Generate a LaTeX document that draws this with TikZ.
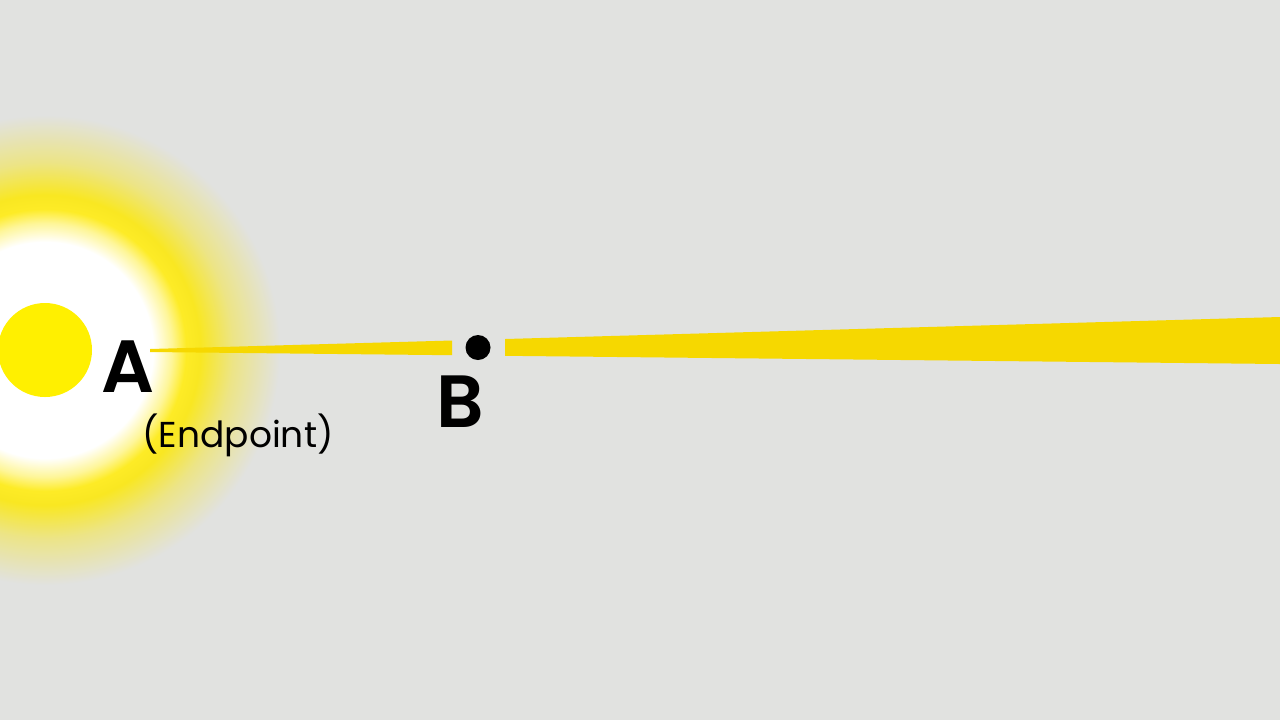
\documentclass[tikz,border=0pt]{standalone}
\usepackage{fontspec}
\setmainfont{Poppins}
\newfontfamily\semib{Poppins SemiBold}
\definecolor{bg}{HTML}{E1E2E0}
\definecolor{sun}{HTML}{FFF000}
\definecolor{ring}{HTML}{FDE800}
\definecolor{ray}{HTML}{F6D800}
\pgfdeclareradialshading{glow}{\pgfpoint{0bp}{0bp}}{color(0bp)=(white); color(11.5bp)=(white); color(13.5bp)=(ring!40!white); color(15bp)=(ring!85!white); color(16.5bp)=(ring!85!bg); color(20bp)=(ring!40!bg); color(25bp)=(bg); color(50bp)=(bg)}
\tikzset{
  label big/.style={anchor=base, font=\fontsize{37}{37}\selectfont\semib, text=black},
  label small/.style={anchor=base, font=\fontsize{18}{18}\selectfont, text=black},
}
\begin{document}
\begin{tikzpicture}[x=0.5pt,y=-0.5pt]
\useasboundingbox (0,0) rectangle (1280,720);
\fill[bg] (0,0) rectangle (1280,720);
\shade[shading=glow] (45,350) circle[radius=235];
\node[circle, fill=sun, minimum size=47pt, inner sep=0pt] (sun) at (45,350) {};
\fill[ray] (150,349) -- (452,340.5) -- (452,355.2) -- (150,352) -- cycle;
\fill[ray] (505,339) -- (1280,317) -- (1280,364) -- (505,355.8) -- cycle;
\node[circle, fill=black, minimum size=12.5pt, inner sep=0pt] (dot) at (478,347.5) {};
\node[label big] (A) at (127.5,392) {A};
\node[label big] (B) at (460.5,427) {B};
\node[label small] (endpoint) at (238,447) {(Endpoint)};
\end{tikzpicture}
\end{document}
